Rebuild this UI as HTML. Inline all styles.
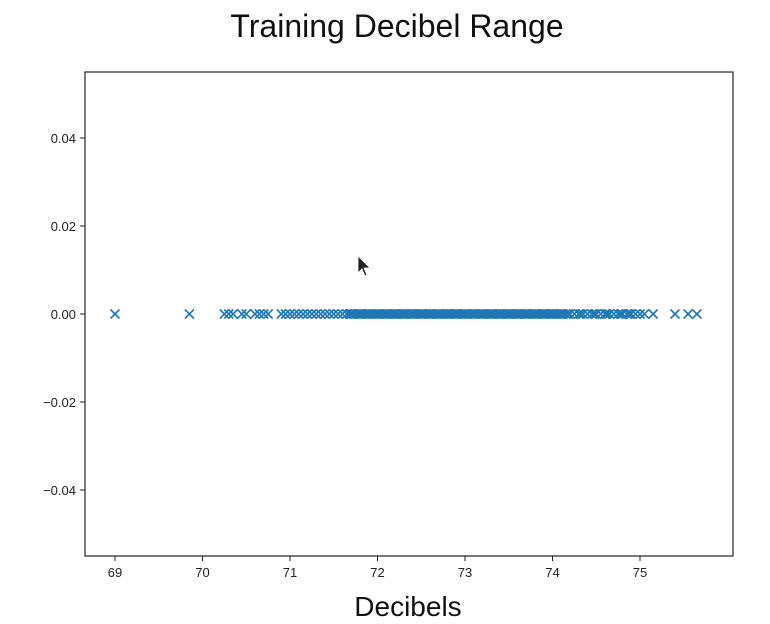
<!DOCTYPE html>
<html><head><meta charset="utf-8"><style>
html,body{margin:0;padding:0;background:#fff;width:770px;height:624px;overflow:hidden}
text{font-family:"Liberation Sans","DejaVu Sans",sans-serif}
</style></head><body>
<svg id="chart" width="770" height="624" viewBox="0 0 770 624" xmlns="http://www.w3.org/2000/svg">
<text x="397" y="37" font-size="32" text-anchor="middle" fill="#111">Training Decibel Range</text>
<rect x="85" y="72" width="648" height="484" fill="#fff" stroke="#222" stroke-width="1.2"/>
<g id="xticks"></g><g id="yticks"></g><g id="marks"></g>
<text x="408" y="616" font-size="28" text-anchor="middle" fill="#111">Decibels</text>
<path d="M358,256 L358,273 L362,269 L365,276 L367,275 L364,268 L370,268 Z" fill="#222" stroke="#fff" stroke-width="0.8"/>
</svg>
<script>
const xTicks=[69,70,71,72,73,74,75];
const yTicks=[0.04,0.02,0.00,-0.02,-0.04];
const yTickLabels=["0.04","0.02","0.00","\u22120.02","\u22120.04"];
const decibels=[69.0,69.85,70.25,70.3,70.35,70.45,70.5,70.6,70.65,70.7,70.75,
70.9,70.95,71.0,71.05,71.1,71.15,71.2,71.25,71.3,71.35,71.4,71.45,71.5,71.55,71.6,71.65,71.7,71.75,71.8,71.85,71.9,71.95,
72.0,72.05,72.1,72.15,72.2,72.25,72.3,72.35,72.4,72.45,72.5,72.55,72.6,72.65,72.7,72.75,72.8,72.85,72.9,72.95,
73.0,73.05,73.1,73.15,73.2,73.25,73.3,73.35,73.4,73.45,73.5,73.55,73.6,73.65,73.7,73.75,73.8,73.85,73.9,73.95,
74.0,74.05,74.1,74.15,74.2,74.25,74.3,74.35,74.4,74.45,74.5,74.55,74.6,74.65,74.7,74.75,74.8,74.85,74.9,74.95,75.0,75.05,
71.68,71.72,71.78,71.82,71.88,71.92,71.98,72.02,72.08,72.12,72.18,72.22,72.28,72.32,72.38,72.42,72.48,72.52,72.58,72.62,
72.68,72.72,72.78,72.82,72.88,72.92,72.98,73.02,73.08,73.12,73.18,73.22,73.28,73.32,73.38,73.42,73.48,73.52,73.58,73.62,
73.68,73.72,73.78,73.82,73.88,73.92,73.98,74.02,74.08,74.12,74.18,74.32,74.48,74.62,74.78,74.88,
75.15,75.4,75.55,75.65];
const yValues=decibels.map(()=>0);
const NS="http://www.w3.org/2000/svg";
const xs=v=>115+(v-69)*87.5;
const ys=v=>314-v*4400;
function mk(tag,attrs,parent){const e=document.createElementNS(NS,tag);for(const k in attrs)e.setAttribute(k,attrs[k]);parent.appendChild(e);return e;}
const gx=document.getElementById('xticks'),gy=document.getElementById('yticks'),gm=document.getElementById('marks');
xTicks.forEach(t=>{const x=xs(t);
 const l=mk('line',{x1:x,x2:x,y1:556,y2:561,stroke:'#222'},gx);
 
 
 const tx=mk('text',{x:x,y:577,'font-size':13,'text-anchor':'middle',fill:'#222'},gx);tx.textContent=t;
 
 
});
yTicks.forEach((t,i)=>{const y=ys(t);
 const l=mk('line',{x1:80,x2:85,y1:y,y2:y,stroke:'#222'},gy);
 
 
 const tx=mk('text',{x:76,y:y+5,'font-size':13,'text-anchor':'end',fill:'#222'},gy);tx.textContent=yTickLabels[i];
 
 
});
decibels.forEach((d,i)=>{const x=xs(d),y=ys(yValues[i]),s=4.5;
 const p=mk('path',{d:`M${x-s},${y-s}L${x+s},${y+s}M${x-s},${y+s}L${x+s},${y-s}`,stroke:'#1f77b4','stroke-width':1.6,fill:'none'},gm);
 
 
});
</script>
</body></html>
